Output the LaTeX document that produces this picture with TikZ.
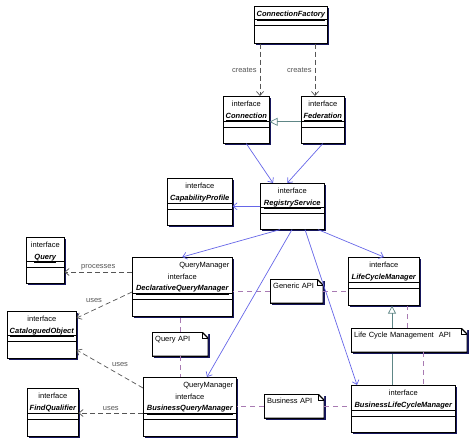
\documentclass[tikz,border=0pt]{standalone}
\usepackage{fontspec}
\setmainfont{Liberation Sans}
\usetikzlibrary{arrows.meta}
\definecolor{shadowblue}{HTML}{16165C}
\definecolor{assocblue}{HTML}{6666E8}
\definecolor{genteal}{HTML}{5E8686}
\definecolor{depgray}{HTML}{555555}
\definecolor{notepurple}{HTML}{A87AB2}
\newcommand{\cname}[1]{\textbf{\textit{\underline{#1}}}}
\newcommand{\qmhead}{\makebox[\linewidth][r]{QueryManager\hspace{3pt}}}

\begin{document}
\begin{tikzpicture}[x=1pt, y=-1pt,
  boxshadow/.style={preaction={draw=none, fill=shadowblue, transform canvas={xshift=1.8pt, yshift=-1.8pt}}},
  cls/.style n args={3}{draw, fill=white, line width=0.6pt, anchor=north west, align=center,
    text width=#1, inner xsep=0pt, inner ysep=3pt, text height=7.5pt, text depth=#2,
    font=\fontsize{7.5}{11.5}\selectfont, boxshadow,
    path picture={
      \draw[line width=0.6pt] ([yshift=-#3]path picture bounding box.north west) -- ([yshift=-#3]path picture bounding box.north east);
      \draw[line width=0.6pt] ([yshift=-#3-6pt]path picture bounding box.north west) -- ([yshift=-#3-6pt]path picture bounding box.north east);
    }},
  note/.style={fill=white, anchor=north west, align=left,
    text width=#1, inner xsep=3pt, inner ysep=3pt, text height=6pt, text depth=12pt,
    font=\fontsize{7.5}{9}\selectfont, boxshadow,
    path picture={
      \fill[white] ([xshift=-6pt]path picture bounding box.north east) -- (path picture bounding box.north east) -- ([yshift=-6pt]path picture bounding box.north east) -- cycle;
      \draw[line width=1.2pt] (path picture bounding box.north west) -- ([xshift=-6pt]path picture bounding box.north east)
        -- ([yshift=-6pt]path picture bounding box.north east) -- (path picture bounding box.south east)
        -- (path picture bounding box.south west) -- cycle;
      \draw[line width=0.6pt] ([xshift=-6pt]path picture bounding box.north east) |- ([yshift=-6pt]path picture bounding box.north east);
    }},
  assoc/.style={draw=assocblue, line width=0.7pt, -{Straight Barb[length=4pt, width=7pt]}},
  gen/.style={draw=genteal, line width=0.7pt, -{Triangle[open, length=8pt, width=8pt]}},
  dep/.style={draw=depgray, line width=0.7pt, dash pattern=on 5pt off 3pt, -{Straight Barb[length=4pt, width=7pt]}},
  link/.style={draw=notepurple, line width=0.8pt, dash pattern=on 5pt off 4pt},
  lbl/.style={font=\fontsize{7.5}{9}\selectfont, text=depgray, inner sep=2pt}
]
\useasboundingbox (0,0) rectangle (474,444);

% classes
\node[cls={73pt}{23.5pt}{13.5pt}] (cf) at (254,6) {\cname{ConnectionFactory}};
\node[cls={46pt}{33.5pt}{25pt}] (conn) at (223,96) {interface\\\cname{Connection}};
\node[cls={43pt}{33.5pt}{25pt}] (fed) at (301,96) {interface\\\cname{Federation}};
\node[cls={64pt}{32.5pt}{24pt}] (rs) at (260,183) {interface\\\cname{RegistryService}};
\node[cls={65pt}{33.5pt}{25pt}] (cp) at (167,178) {interface\\\cname{CapabilityProfile}};
\node[cls={38pt}{32.5pt}{24pt}] (query) at (26,237) {interface\\\cname{Query}};
\node[cls={100pt}{45.5pt}{36pt}] (dqm) at (132,257) {\qmhead\\interface\\\cname{DeclarativeQueryManager}};
\node[cls={69pt}{33.5pt}{24pt}] (co) at (7,311) {interface\\\cname{CataloguedObject}};
\node[cls={93pt}{45.5pt}{36pt}] (bqm) at (143,377) {\qmhead\\interface\\\cname{BusinessQueryManager}};
\node[cls={51pt}{34.5pt}{25pt}] (fq) at (27,388) {interface\\\cname{FindQualifier}};
\node[cls={71pt}{34.5pt}{25pt}] (lcm) at (348,257) {interface\\\cname{LifeCycleManager}};
\node[cls={104pt}{33.5pt}{25pt}] (blcm) at (351,385) {interface\\\cname{BusinessLifeCycleManager}};

% generalizations
\draw[gen] ([yshift=-2pt]fed.west) -- ([yshift=-2pt]conn.east);
\draw[gen] ([xshift=41pt]blcm.north west) -- ([xshift=44pt]lcm.south west);

% notes
\node[note=50pt] (qapi) at (152,332) {Query API};
\node[note=47pt] (gapi) at (270,279) {Generic API};
\node[note=110pt] (lapi) at (351,328) {Life Cycle Management\ \ API};
\node[note=54pt] (bapi) at (264,394) {Business API};

% note links
\draw[link] (gapi.west) -- (gapi.west -| dqm.east);
\draw[link] (gapi.east) -- (gapi.east -| lcm.west);
\draw[link] (qapi.north) -- (qapi.north |- dqm.south);
\draw[link] (qapi.south) -- (qapi.south |- bqm.north);
\draw[link] (bapi.west) -- (bapi.west -| bqm.east);
\draw[link] (bapi.east) -- (bapi.east -| blcm.west);
\draw[link] ([xshift=56pt]lapi.north west) -- ([xshift=59pt]lcm.south west);
\draw[link] ([xshift=72pt]lapi.south west) -- ([xshift=72pt]blcm.north west);

% associations
\draw[assoc] (conn.south) -- ([xshift=13pt]rs.north west);
\draw[assoc] (fed.south) -- ([xshift=-5pt]rs.north);
\draw[assoc] (rs.west) -- (rs.west -| cp.east);
\draw[assoc] ([xshift=20pt]rs.south west) -- (dqm.north);
\draw[assoc] ([xshift=32pt]rs.south west) -- ([xshift=64pt]bqm.north west);
\draw[assoc] ([xshift=45pt]rs.south west) -- ([xshift=6pt]blcm.north west);
\draw[assoc] ([xshift=58pt]rs.south west) -- (lcm.north);

% dependencies
\coordinate (cfl) at ([xshift=6pt]cf.south west);
\coordinate (cfr) at ([xshift=61pt]cf.south west);
\draw[dep] (cfl) -- (cfl |- conn.north) node[lbl, midway, left, xshift=-1pt] {creates};
\draw[dep] (cfr) -- (cfr |- fed.north) node[lbl, midway, left, xshift=-1pt] {creates};
\draw[dep] ([yshift=-15pt]dqm.north west) -- ([yshift=-35pt]query.north east) node[lbl, midway, above] {processes};
\draw[dep] ([yshift=-35pt]dqm.north west) -- ([yshift=-7pt]co.north east) node[lbl, midway, above left] {uses};
\draw[dep] ([yshift=-11pt]bqm.north west) -- ([yshift=-39pt]co.north east) node[lbl, midway, above right] {uses};
\draw[dep] ([yshift=-36pt]bqm.north west) -- ([yshift=-25pt]fq.north east) node[lbl, midway, above] {uses};
\end{tikzpicture}
\end{document}
